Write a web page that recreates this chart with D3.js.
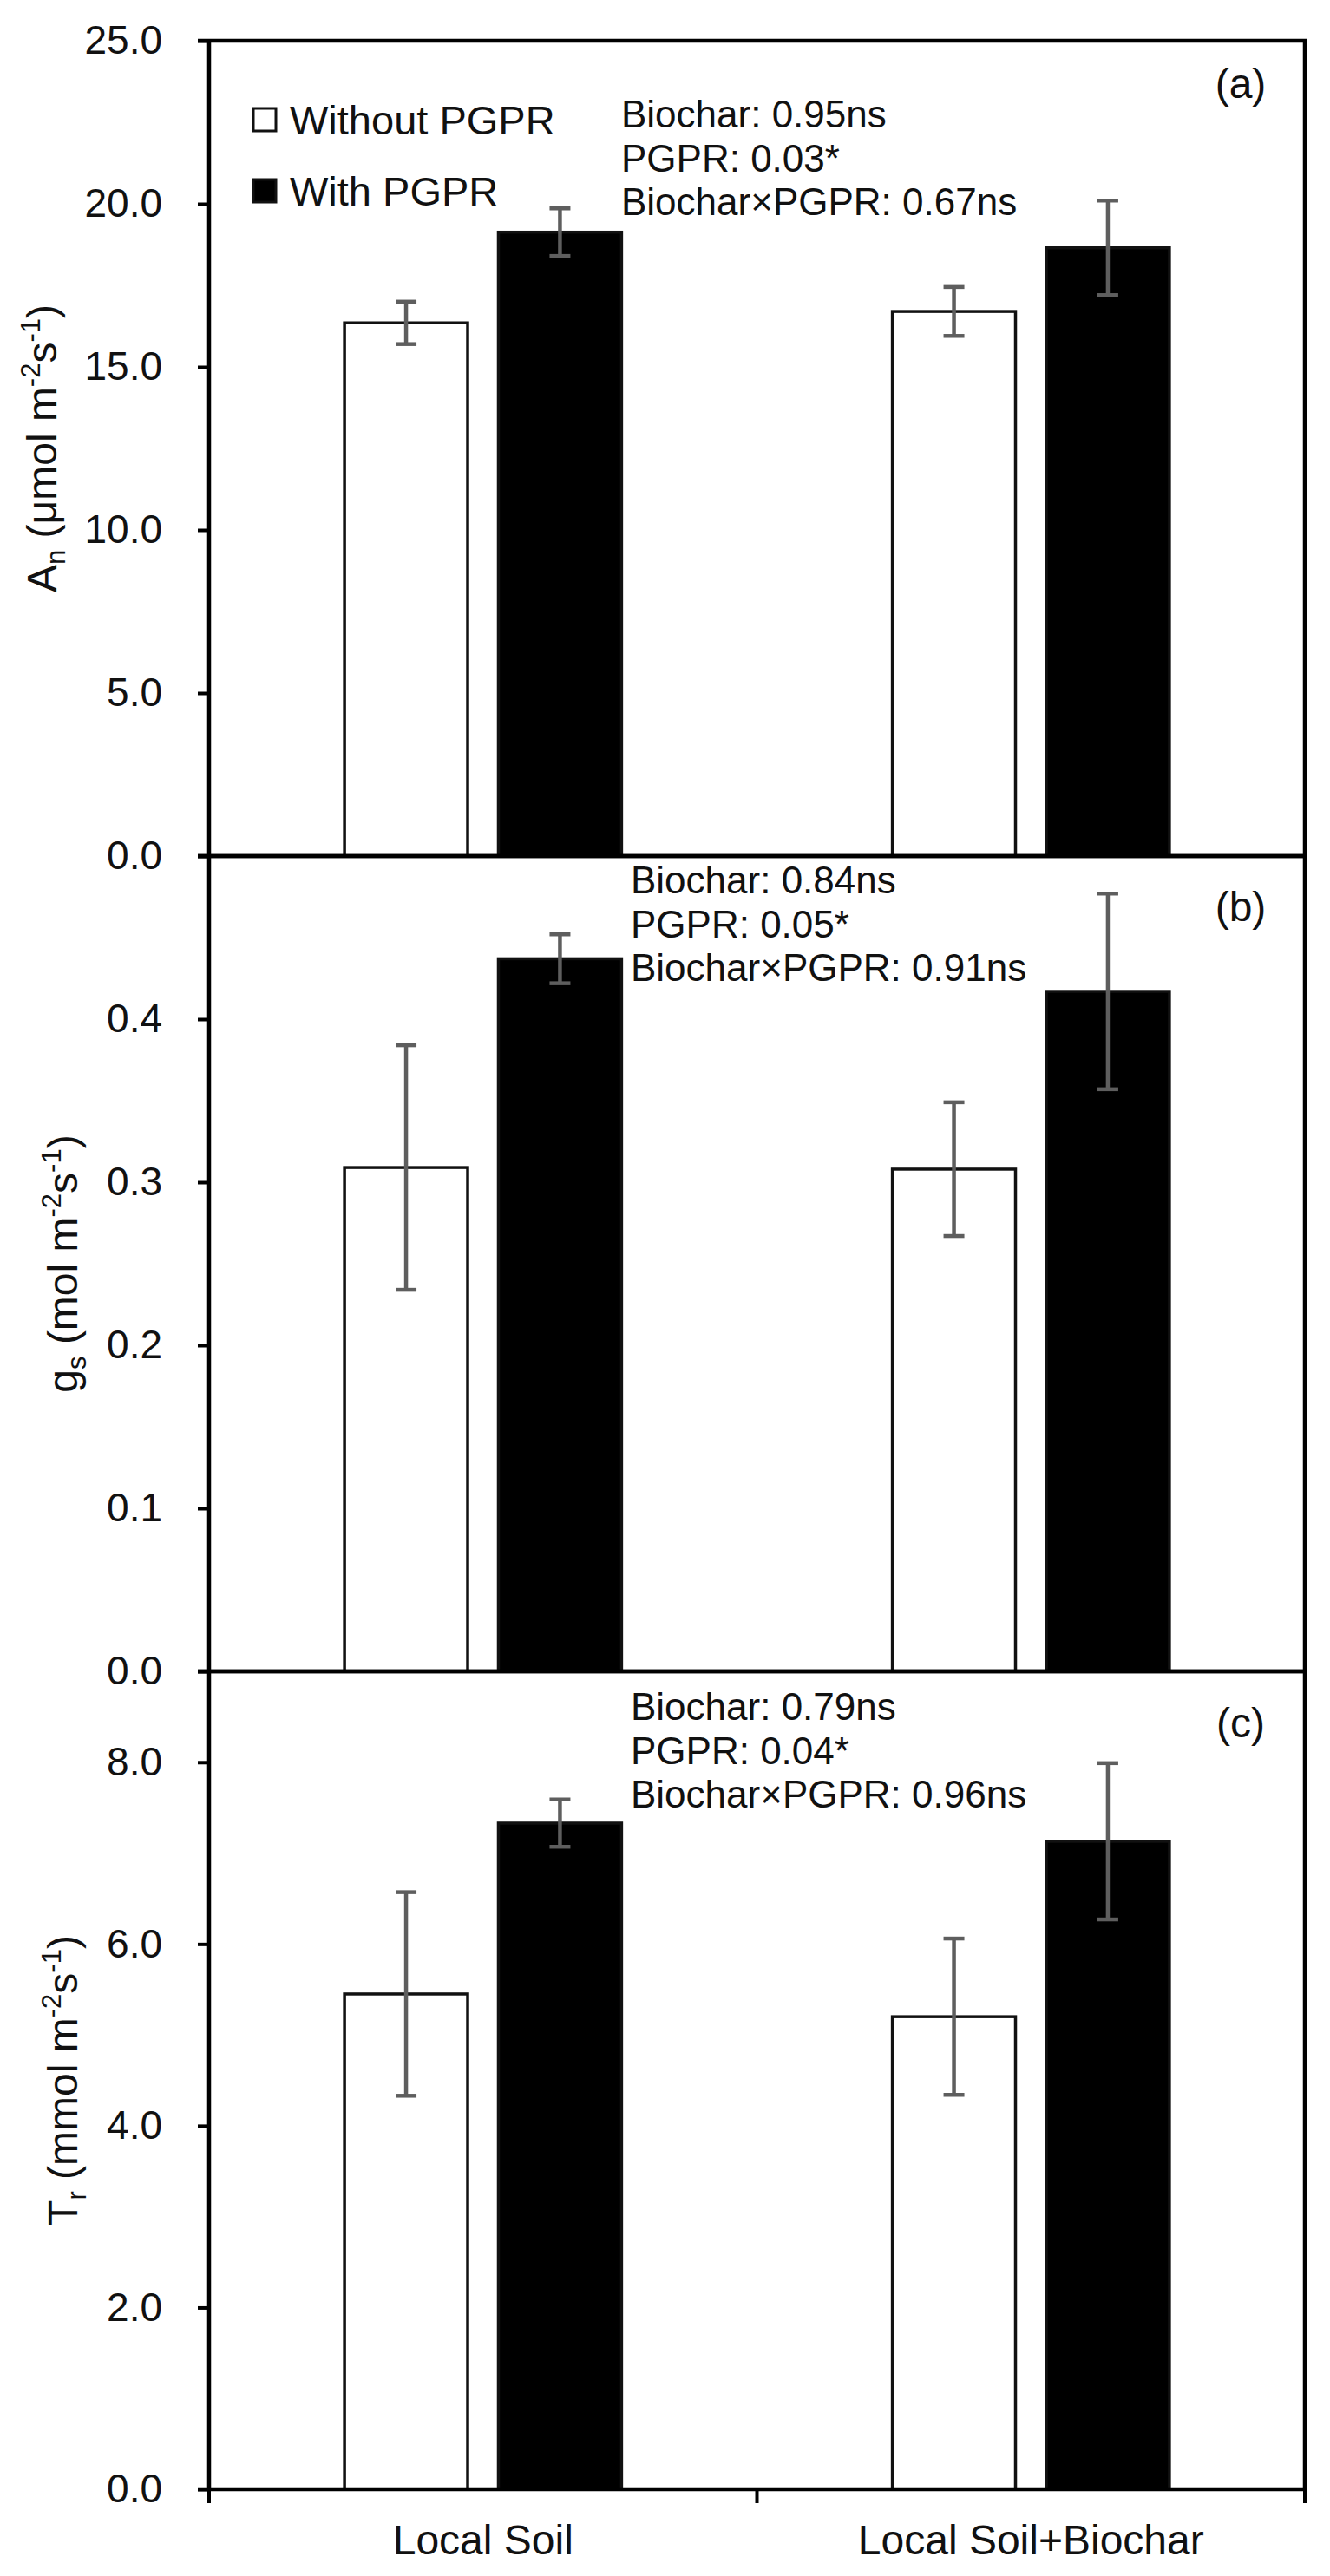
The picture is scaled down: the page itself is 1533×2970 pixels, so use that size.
<!DOCTYPE html>
<html lang="en">
<head>
<meta charset="UTF-8">
<title>Gas exchange with and without PGPR</title>
<script src="https://d3js.org/d3.v7.min.js"></script>
<style>
  body { margin: 0; background: #fff; }
  svg text { font-family: "Liberation Sans", Arial, sans-serif; fill: #111; }
</style>
</head>
<body>
<svg id="chart" width="1533" height="2970"></svg>
<script>
// categories and series
var categories = ["Local Soil", "Local Soil+Biochar"];
var treatments = ["Without PGPR", "With PGPR"];

// (a) net photosynthesis
var anWithout = [16.35, 16.70];
var anWithoutSE = [0.65, 0.75];
var anWith = [19.13, 18.65];
var anWithSE = [0.73, 1.45];

// (b) stomatal conductance
var gsWithout = [0.309, 0.308];
var gsWithoutSE = [0.075, 0.041];
var gsWith = [0.437, 0.417];
var gsWithSE = [0.015, 0.060];

// (c) transpiration
var trWithout = [5.45, 5.20];
var trWithoutSE = [1.12, 0.86];
var trWith = [7.33, 7.13];
var trWithSE = [0.26, 0.86];

// axis ticks / maxima
var anTicks = [0, 5, 10, 15, 20, 25];
var gsTicks = [0, 0.1, 0.2, 0.3, 0.4];
var trTicks = [0, 2, 4, 6, 8];
var anMax = 25, gsMax = 0.5, trMax = 9;

// ANOVA text
var anStats = ["Biochar: 0.95ns", "PGPR: 0.03*", "Biochar\u00d7PGPR: 0.67ns"];
var gsStats = ["Biochar: 0.84ns", "PGPR: 0.05*", "Biochar\u00d7PGPR: 0.91ns"];
var trStats = ["Biochar: 0.79ns", "PGPR: 0.04*", "Biochar\u00d7PGPR: 0.96ns"];

var panelLetters = ["(a)", "(b)", "(c)"];

// y titles: [text, "" | "sub" | "sup"]
var anTitle = [["A", ""], ["n", "sub"], [" (\u03bcmol m", ""], ["-2", "sup"], ["s", ""], ["-1", "sup"], [")", ""]];
var gsTitle = [["g", ""], ["s", "sub"], [" (mol m", ""], ["-2", "sup"], ["s", ""], ["-1", "sup"], [")", ""]];
var trTitle = [["T", ""], ["r", "sub"], [" (mmol m", ""], ["-2", "sup"], ["s", ""], ["-1", "sup"], [")", ""]];

// ---- layout ----
var left = 241, right = 1504;
var panels = [
  { top: 47,   bottom: 987,  max: anMax, ticks: anTicks, without: anWithout, withoutSE: anWithoutSE, with_: anWith, withSE: anWithSE,
    stats: anStats, statX: 716, statY: 100, title: anTitle, titleX: 65, letterY: 66 },
  { top: 987,  bottom: 1927, max: gsMax, ticks: gsTicks, without: gsWithout, withoutSE: gsWithoutSE, with_: gsWith, withSE: gsWithSE,
    stats: gsStats, statX: 727, statY: 43, title: gsTitle, titleX: 89, letterY: 75 },
  { top: 1927, bottom: 2870, max: trMax, ticks: trTicks, without: trWithout, withoutSE: trWithoutSE, with_: trWith, withSE: trWithSE,
    stats: trStats, statX: 727, statY: 56, title: trTitle, titleX: 89, letterY: 76 }
];

var svg = d3.select("#chart");
var fill = { "Without PGPR": "#fff", "With PGPR": "#000" };

var x0 = d3.scaleBand().domain(categories).range([left, right]).padding(0);
var x1 = d3.scaleBand().domain(treatments).range([0, x0.bandwidth()])
    .paddingInner(0.2).paddingOuter(0.88);

panels.forEach(function(p, i) {
    var y = d3.scaleLinear().domain([0, p.max]).range([p.bottom, p.top]);
    var g = svg.append("g");

    // rows for this panel
    var rows = [];
    categories.forEach(function(c, k) {
        rows.push({ cat: c, tr: treatments[0], v: p.without[k], se: p.withoutSE[k] });
        rows.push({ cat: c, tr: treatments[1], v: p.with_[k], se: p.withSE[k] });
    });

    // bars
    g.selectAll("rect.bar")
        .data(rows)
        .enter()
        .append("rect")
        .attr("class", "bar")
        .attr("x", d => x0(d.cat) + x1(d.tr))
        .attr("width", x1.bandwidth())
        .attr("y", d => y(d.v))
        .attr("height", d => y(0) - y(d.v))
        .attr("fill", d => fill[d.tr])
        .attr("stroke", "#111")
        .attr("stroke-width", 3.5);

    // error bars
    var eb = g.selectAll("g.err")
        .data(rows)
        .enter()
        .append("g")
        .attr("class", "err")
        .attr("stroke", "#5e5e5e")
        .attr("stroke-width", 4.5);
    var cx = d => x0(d.cat) + x1(d.tr) + x1.bandwidth() / 2;
    eb.append("line")
        .attr("x1", cx).attr("x2", cx)
        .attr("y1", d => y(d.v + d.se)).attr("y2", d => y(d.v - d.se));
    eb.append("line")
        .attr("x1", d => cx(d) - 12).attr("x2", d => cx(d) + 12)
        .attr("y1", d => y(d.v + d.se)).attr("y2", d => y(d.v + d.se));
    eb.append("line")
        .attr("x1", d => cx(d) - 12).attr("x2", d => cx(d) + 12)
        .attr("y1", d => y(d.v - d.se)).attr("y2", d => y(d.v - d.se));

    // y axis ticks + labels
    var ax = g.append("g")
        .attr("transform", `translate(${left},0)`)
        .call(d3.axisLeft(y).tickValues(p.ticks).tickSize(13).tickPadding(41)
            .tickFormat(d3.format(".1f")));
    ax.select(".domain").remove();
    ax.selectAll(".tick line").attr("stroke", "#000").attr("stroke-width", 4);
    ax.selectAll(".tick text")
        .attr("font-size", 46)
        .attr("font-family", "'Liberation Sans', Arial, sans-serif")
        .attr("fill", "#111");

    // frame lines
    g.append("line")
        .attr("x1", left - 13).attr("x2", right + 2)
        .attr("y1", y(0)).attr("y2", y(0))
        .attr("stroke", "#000").attr("stroke-width", 4.5);
    g.append("line")
        .attr("x1", left - 13).attr("x2", right + 2)
        .attr("y1", y(p.max)).attr("y2", y(p.max))
        .attr("stroke", "#000").attr("stroke-width", 4.5);
    g.append("line")
        .attr("x1", left).attr("x2", left)
        .attr("y1", y(p.max)).attr("y2", y(0))
        .attr("stroke", "#000").attr("stroke-width", 4.5);
    g.append("line")
        .attr("x1", right).attr("x2", right)
        .attr("y1", y(p.max)).attr("y2", y(0))
        .attr("stroke", "#000").attr("stroke-width", 4.5);

    // anova text
    g.selectAll("text.stat")
        .data(p.stats)
        .enter()
        .append("text")
        .attr("class", "stat")
        .attr("x", p.statX)
        .attr("y", (d, j) => p.top + p.statY + j * 50.5)
        .attr("font-size", 44)
        .text(d => d);

    // panel letter
    g.append("text")
        .attr("x", 1430)
        .attr("y", p.top + p.letterY)
        .attr("text-anchor", "middle")
        .attr("font-size", 48)
        .text(panelLetters[i]);

    // y title with sub/superscripts
    var title = g.append("text")
        .attr("transform", `translate(${p.titleX},${(p.top + p.bottom) / 2}) rotate(-90)`)
        .attr("text-anchor", "middle")
        .attr("font-size", 48);
    var shiftOf = { "": 0, "sub": 10, "sup": -19 };
    var prev = 0;
    p.title.forEach(function(part) {
        var s = shiftOf[part[1]];
        title.append("tspan")
            .attr("dy", s - prev)
            .attr("font-size", part[1] ? 31 : 48)
            .text(part[0]);
        prev = s;
    });
});

// bottom category axis
var bottom = panels[2].bottom;
var xa = svg.append("g")
    .attr("transform", `translate(0,${bottom})`)
    .call(d3.axisBottom(x0).tickSize(0).tickPadding(41));
xa.select(".domain").remove();
xa.selectAll(".tick text")
    .attr("font-size", 48)
    .attr("font-family", "'Liberation Sans', Arial, sans-serif")
    .attr("fill", "#111");

// category boundary ticks
var edges = categories.map(c => x0(c)).concat([x0.range()[1]]);
svg.selectAll("line.xtick")
    .data(edges)
    .enter()
    .append("line")
    .attr("class", "xtick")
    .attr("x1", d => d).attr("x2", d => d)
    .attr("y1", bottom).attr("y2", bottom + 16)
    .attr("stroke", "#000").attr("stroke-width", 4);

// legend (panel a)
var legend = svg.append("g");
treatments.forEach(function(t, k) {
    legend.append("rect")
        .attr("x", 292).attr("y", 125 + k * 82)
        .attr("width", 26).attr("height", 26)
        .attr("fill", fill[t])
        .attr("stroke", "#111").attr("stroke-width", 3);
    legend.append("text")
        .attr("x", 334).attr("y", 155 + k * 82)
        .attr("font-size", 47)
        .text(t);
});
</script>
</body>
</html>
